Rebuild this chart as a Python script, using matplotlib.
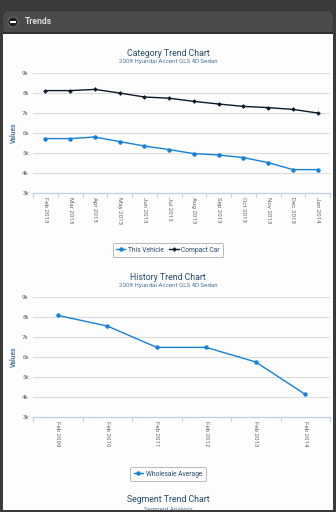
import numpy as np
import matplotlib
matplotlib.use("Agg")
import matplotlib.pyplot as plt
from matplotlib.patches import Rectangle, FancyBboxPatch, Ellipse

plt.rcParams['font.family'] = ['Roboto', 'DejaVu Sans']

W, H = 336, 512

# data
cat_months = ['Feb 2013', 'Mar 2013', 'Apr 2013', 'May 2013', 'Jun 2013', 'Jul 2013',
              'Aug 2013', 'Sep 2013', 'Oct 2013', 'Nov 2013', 'Dec 2013', 'Jan 2014']
this_vehicle = [5720, 5720, 5800, 5570, 5350, 5170, 4970, 4900, 4770, 4520, 4170, 4170]
compact_car = [8120, 8120, 8180, 8000, 7800, 7740, 7580, 7450, 7330, 7270, 7180, 7000]

hist_years = ['Feb 2009', 'Feb 2010', 'Feb 2011', 'Feb 2012', 'Feb 2013', 'Feb 2014']
wholesale_avg = [8080, 7550, 6480, 6480, 5750, 4130]

y_ticks = [3000, 4000, 5000, 6000, 7000, 8000, 9000]

TITLE_C = '#274b6d'
SUB_C = '#4d759e'
BLUE = '#1581d9'
DARK = '#0b1a2b'


def fx(x):
    return x / W


def fy(y):
    return 1 - y / H


fig = plt.figure(figsize=(W / 100, H / 100), dpi=100)
fig.patch.set_facecolor('#3a3a3a')

# panel background + header
fig.patches.append(Rectangle((fx(3), fy(510)), fx(330), 477 / H, transform=fig.transFigure,
                             facecolor='#fdfdfd', edgecolor='none', zorder=0))
fig.patches.append(FancyBboxPatch((fx(4), fy(33)), fx(328), 21 / H, transform=fig.transFigure,
                                  boxstyle='round,pad=0,rounding_size=0.012',
                                  facecolor='#4a4a4a', edgecolor='#555555', lw=0.6, zorder=0))
fig.patches.append(Rectangle((fx(3), fy(34)), fx(330), 2 / H, transform=fig.transFigure,
                             facecolor='#2e2e2e', edgecolor='none', zorder=1))
fig.patches.append(Ellipse((fx(13), fy(22)), 10 / W, 10 / H, transform=fig.transFigure,
                           facecolor='#1e1e1e', edgecolor='#777777', lw=0.6, zorder=2))
fig.patches.append(Rectangle((fx(10), fy(22.8)), fx(6), 1.6 / H, transform=fig.transFigure,
                             facecolor='white', edgecolor='none', zorder=3))
fig.text(fx(25), fy(22), 'Trends', color='#d8d8d8', fontsize=6.2, fontweight='bold',
         va='center', ha='left')


def trend_chart(top, labels, series, title, subtitle, legend_y):
    ax = fig.add_axes([fx(33), fy(top + 120), fx(297), 120 / H])
    ax.set_zorder(10)
    ax.set_facecolor('none')
    n = len(labels)
    x = np.arange(n)
    handles = []
    for vals, color, marker, ms, name in series:
        h, = ax.plot(x, vals, color=color, lw=1.0, marker=marker, ms=ms,
                     markeredgewidth=0, label=name, zorder=3, clip_on=False)
        handles.append(h)
    ax.set_xlim(-0.5, n - 0.5)
    ax.set_ylim(3000, 9000)
    ax.set_yticks(y_ticks)
    ax.set_yticklabels([f'{v // 1000}k' for v in y_ticks])
    ax.grid(axis='y', color='#dcdcdc', lw=0.8)
    ax.set_axisbelow(True)
    for s in ['top', 'right', 'left']:
        ax.spines[s].set_visible(False)
    ax.spines['bottom'].set_color('#c0d0e0')
    ax.spines['bottom'].set_linewidth(0.9)
    ax.set_xticks(x)
    ax.set_xticklabels(labels, rotation=270, fontsize=4.4, color='#666666')
    ax.set_xticks(np.arange(n + 1) - 0.5, minor=True)
    ax.tick_params(axis='x', which='major', length=0, pad=3)
    ax.tick_params(axis='x', which='minor', length=3, color='#c0d0e0', width=0.8)
    ax.tick_params(axis='y', length=0, labelsize=4.5, labelcolor='#666666', pad=3)
    ax.set_ylabel('Values', fontsize=4.8, color=SUB_C, fontweight='bold', labelpad=3)
    fig.text(fx(168), fy(top - 20), title, ha='center', va='center', fontsize=6.3, color=TITLE_C)
    fig.text(fx(168), fy(top - 12), subtitle, ha='center', va='center', fontsize=4.4, color=SUB_C)
    leg = ax.legend(handles=handles, loc='center', bbox_to_anchor=(fx(168), fy(legend_y)),
                    bbox_transform=fig.transFigure, ncol=len(handles), fontsize=4.8,
                    frameon=True, fancybox=True, edgecolor='#9a9a9a', handlelength=1.4,
                    handletextpad=0.4, columnspacing=0.8, borderpad=0.5)
    leg.get_frame().set_linewidth(0.6)
    for t in leg.get_texts():
        t.set_color(TITLE_C)
    return ax


trend_chart(73, cat_months,
            [(this_vehicle, BLUE, 'o', 3.2, 'This Vehicle'),
             (compact_car, DARK, 'D', 2.4, 'Compact Car')],
            'Category Trend Chart', '2008 Hyundai Accent GLS 4D Sedan', 250)

trend_chart(297, hist_years,
            [(wholesale_avg, BLUE, 'o', 3.2, 'Wholesale Average')],
            'History Trend Chart', '2008 Hyundai Accent GLS 4D Sedan', 474)

fig.text(fx(168), fy(500), 'Segment Trend Chart', ha='center', va='center', fontsize=6.3, color=TITLE_C)
fig.text(fx(168), fy(509), 'Segment Analysis', ha='center', va='center', fontsize=4.4, color=SUB_C)
fig.patches.append(Rectangle((0, 0), 1, 2 / H, transform=fig.transFigure,
                             facecolor='#3a3a3a', edgecolor='none', zorder=5))

fig.savefig('out.png', dpi=100, facecolor=fig.get_facecolor())
